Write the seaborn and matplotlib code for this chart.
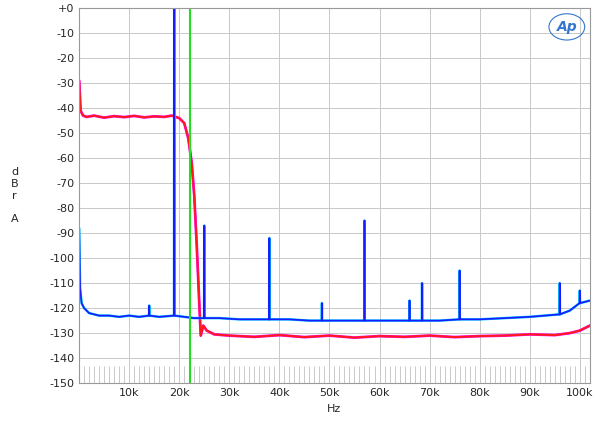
import numpy as np
import matplotlib.pyplot as plt
import seaborn as sns
from matplotlib.patches import Ellipse

# red trace (Hz, dBrA)
red_hz = [20, 300, 800, 1500, 3000, 5000, 7000, 9000, 11000, 13000, 15000, 17000, 18500,
          20000, 21000, 21800, 22500, 23000, 23500, 24000, 24300, 24800, 25500, 27000,
          30000, 35000, 40000, 45000, 50000, 55000, 60000, 65000, 70000, 75000, 80000,
          85000, 90000, 95000, 98000, 100000, 102000]
red_db = [-29, -41, -43, -43.5, -43, -43.8, -43.2, -43.6, -43.1, -43.7, -43.3, -43.5, -43,
          -44, -46, -52, -62, -75, -95, -118, -131, -127, -129, -130.5,
          -131, -131.5, -130.8, -131.6, -131, -131.8, -131.2, -131.5, -131, -131.6, -131.2,
          -131, -130.5, -130.8, -130, -129, -127]

# blue trace (Hz, dBrA) with harmonic spikes
blue_hz = [20, 200, 500, 1000, 2000, 4000, 6000, 8000, 10000, 12000, 13960, 14000, 14040,
           16000, 18960, 19000, 19040, 21000, 23000, 24960, 25000, 25040, 28000, 32000,
           37960, 38000, 38040, 42000, 46000, 48460, 48500, 48540, 52000, 56960, 57000,
           57040, 61000, 65960, 66000, 66040, 68460, 68500, 68540, 72000, 75960, 76000,
           76040, 80000, 85000, 90000, 93000, 95960, 96000, 96040, 98000, 99960, 100000,
           100040, 102000]
blue_db = [-88, -112, -118, -120, -122, -123, -123, -123.5, -123, -123.5, -123, -119, -123,
           -123.5, -123, 0, -123, -123.5, -124, -124, -87, -124, -124, -124.5,
           -124.5, -92, -124.5, -124.5, -125, -125, -118, -125, -125, -125, -85,
           -125, -125, -125, -117, -125, -125, -110, -125, -125, -124.5, -105,
           -124.5, -124.5, -124, -123.5, -123, -122.5, -110, -122.5, -121, -118, -113,
           -118, -117]

green_hz = 22050

sns.set_style("white")
fig, ax = plt.subplots(figsize=(6, 4.29), dpi=100)
fig.subplots_adjust(left=0.132, right=0.983, top=0.981, bottom=0.107)

sns.lineplot(x=red_hz, y=red_db, ax=ax, color="#ff00ff", lw=2.0, sort=False)
sns.lineplot(x=red_hz, y=red_db, ax=ax, color="#ff1a1a", lw=1.4, sort=False)
sns.lineplot(x=blue_hz, y=blue_db, ax=ax, color="#00c8ff", lw=1.8, sort=False)
sns.lineplot(x=blue_hz, y=blue_db, ax=ax, color="#1a1aff", lw=1.2, sort=False)
ax.axvline(green_hz, color="#22dd22", lw=1.5)

ax.set_xlim(20, 102000)
ax.set_ylim(-150, 0)
ax.set_xticks(np.arange(10000, 100001, 10000))
ax.set_xticklabels([f"{k}k" for k in range(10, 101, 10)], fontsize=8)
ax.set_xticks(np.arange(1000, 102000, 1000), minor=True)
ax.set_yticks(np.arange(-150, 1, 10))
ax.set_yticklabels(["+0" if v == 0 else str(v) for v in range(-150, 1, 10)], fontsize=8)
ax.grid(True, which="major", color="#c8c8c8", lw=0.7)
ax.tick_params(axis="x", which="minor", bottom=True, direction="in", length=12,
               color="#c0c0c0", width=0.6)
ax.tick_params(axis="both", which="major", length=0)
for s in ax.spines.values():
    s.set_color("#999999")

ax.set_xlabel("Hz", fontsize=8)
ax.set_ylabel("d\nB\nr\n\nA", rotation=0, fontsize=8, labelpad=25, va="center")

ax.add_patch(Ellipse((0.955, 0.95), 0.07, 0.07, transform=ax.transAxes, fill=False,
                     ec="#3377cc", lw=0.8))
ax.text(0.955, 0.95, "Ap", transform=ax.transAxes, ha="center", va="center",
        color="#3377cc", fontsize=10, style="italic", weight="bold")

fig.savefig("out.png", dpi=100)
